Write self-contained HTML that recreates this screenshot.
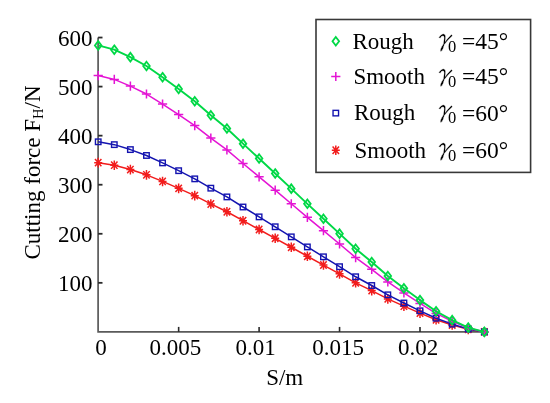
<!DOCTYPE html><html><head><meta charset="utf-8"><style>html,body{margin:0;padding:0;background:#fff;width:550px;height:403px;overflow:hidden}svg{display:block}text{font-family:"Liberation Serif","Times New Roman",serif;fill:#000}</style></head><body>
<svg width="550" height="403" viewBox="0 0 550 403">
<rect width="550" height="403" fill="#fff"/>
<path d="M98.1 37.54V331.9H484.36" fill="none" stroke="#5a5a5a" stroke-width="1.7"/>
<path d="M98.1 282.84H102.5" stroke="#2a2a2a" stroke-width="1.8"/>
<text x="92.5" y="291.14" font-size="23.0" text-anchor="end">100</text>
<path d="M98.1 233.78H102.5" stroke="#2a2a2a" stroke-width="1.8"/>
<text x="92.5" y="242.08" font-size="23.0" text-anchor="end">200</text>
<path d="M98.1 184.72H102.5" stroke="#2a2a2a" stroke-width="1.8"/>
<text x="92.5" y="193.02" font-size="23.0" text-anchor="end">300</text>
<path d="M98.1 135.66H102.5" stroke="#2a2a2a" stroke-width="1.8"/>
<text x="92.5" y="143.96" font-size="23.0" text-anchor="end">400</text>
<path d="M98.1 86.60H102.5" stroke="#2a2a2a" stroke-width="1.8"/>
<text x="92.5" y="94.90" font-size="23.0" text-anchor="end">500</text>
<path d="M98.1 37.54H102.5" stroke="#2a2a2a" stroke-width="1.8"/>
<text x="92.5" y="45.84" font-size="23.0" text-anchor="end">600</text>
<path d="M178.65 331.9V326.9" stroke="#2a2a2a" stroke-width="1.6"/>
<path d="M259.10 331.9V326.9" stroke="#2a2a2a" stroke-width="1.6"/>
<path d="M339.55 331.9V326.9" stroke="#2a2a2a" stroke-width="1.6"/>
<path d="M420.00 331.9V326.9" stroke="#2a2a2a" stroke-width="1.6"/>
<path d="M98.20 162.64L114.29 165.18L130.38 169.58L146.47 174.83L162.56 181.43L178.65 188.37L194.74 195.65L210.83 203.94L226.92 211.73L243.01 220.70L259.10 229.50L275.19 238.30L291.28 247.27L307.37 256.24L323.46 265.04L339.55 273.84L355.64 282.82L371.73 290.60L387.82 298.89L403.91 306.17L420.00 313.11L436.09 319.71L452.18 324.96L468.27 329.36L484.36 331.90" fill="none" stroke="#f21c1c" stroke-width="1.5" stroke-linejoin="round"/>
<path d="M94.20 162.64H102.20M98.20 157.84V167.44M95.00 158.94L101.40 166.34M95.00 166.34L101.40 158.94" stroke="#f21c1c" stroke-width="1.5"/>
<path d="M110.29 165.18H118.29M114.29 160.38V169.98M111.09 161.48L117.49 168.88M111.09 168.88L117.49 161.48" stroke="#f21c1c" stroke-width="1.5"/>
<path d="M126.38 169.58H134.38M130.38 164.78V174.38M127.18 165.88L133.58 173.28M127.18 173.28L133.58 165.88" stroke="#f21c1c" stroke-width="1.5"/>
<path d="M142.47 174.83H150.47M146.47 170.03V179.63M143.27 171.13L149.67 178.53M143.27 178.53L149.67 171.13" stroke="#f21c1c" stroke-width="1.5"/>
<path d="M158.56 181.43H166.56M162.56 176.63V186.23M159.36 177.73L165.76 185.13M159.36 185.13L165.76 177.73" stroke="#f21c1c" stroke-width="1.5"/>
<path d="M174.65 188.37H182.65M178.65 183.57V193.17M175.45 184.67L181.85 192.07M175.45 192.07L181.85 184.67" stroke="#f21c1c" stroke-width="1.5"/>
<path d="M190.74 195.65H198.74M194.74 190.85V200.45M191.54 191.95L197.94 199.35M191.54 199.35L197.94 191.95" stroke="#f21c1c" stroke-width="1.5"/>
<path d="M206.83 203.94H214.83M210.83 199.14V208.74M207.63 200.24L214.03 207.64M207.63 207.64L214.03 200.24" stroke="#f21c1c" stroke-width="1.5"/>
<path d="M222.92 211.73H230.92M226.92 206.93V216.53M223.72 208.03L230.12 215.43M223.72 215.43L230.12 208.03" stroke="#f21c1c" stroke-width="1.5"/>
<path d="M239.01 220.70H247.01M243.01 215.90V225.50M239.81 217.00L246.21 224.40M239.81 224.40L246.21 217.00" stroke="#f21c1c" stroke-width="1.5"/>
<path d="M255.10 229.50H263.10M259.10 224.70V234.30M255.90 225.80L262.30 233.20M255.90 233.20L262.30 225.80" stroke="#f21c1c" stroke-width="1.5"/>
<path d="M271.19 238.30H279.19M275.19 233.50V243.10M271.99 234.60L278.39 242.00M271.99 242.00L278.39 234.60" stroke="#f21c1c" stroke-width="1.5"/>
<path d="M287.28 247.27H295.28M291.28 242.47V252.07M288.08 243.57L294.48 250.97M288.08 250.97L294.48 243.57" stroke="#f21c1c" stroke-width="1.5"/>
<path d="M303.37 256.24H311.37M307.37 251.44V261.04M304.17 252.54L310.57 259.94M304.17 259.94L310.57 252.54" stroke="#f21c1c" stroke-width="1.5"/>
<path d="M319.46 265.04H327.46M323.46 260.24V269.84M320.26 261.34L326.66 268.74M320.26 268.74L326.66 261.34" stroke="#f21c1c" stroke-width="1.5"/>
<path d="M335.55 273.84H343.55M339.55 269.04V278.64M336.35 270.14L342.75 277.54M336.35 277.54L342.75 270.14" stroke="#f21c1c" stroke-width="1.5"/>
<path d="M351.64 282.82H359.64M355.64 278.02V287.62M352.44 279.12L358.84 286.52M352.44 286.52L358.84 279.12" stroke="#f21c1c" stroke-width="1.5"/>
<path d="M367.73 290.60H375.73M371.73 285.80V295.40M368.53 286.90L374.93 294.30M368.53 294.30L374.93 286.90" stroke="#f21c1c" stroke-width="1.5"/>
<path d="M383.82 298.89H391.82M387.82 294.09V303.69M384.62 295.19L391.02 302.59M384.62 302.59L391.02 295.19" stroke="#f21c1c" stroke-width="1.5"/>
<path d="M399.91 306.17H407.91M403.91 301.37V310.97M400.71 302.47L407.11 309.87M400.71 309.87L407.11 302.47" stroke="#f21c1c" stroke-width="1.5"/>
<path d="M416.00 313.11H424.00M420.00 308.31V317.91M416.80 309.41L423.20 316.81M416.80 316.81L423.20 309.41" stroke="#f21c1c" stroke-width="1.5"/>
<path d="M432.09 319.71H440.09M436.09 314.91V324.51M432.89 316.01L439.29 323.41M432.89 323.41L439.29 316.01" stroke="#f21c1c" stroke-width="1.5"/>
<path d="M448.18 324.96H456.18M452.18 320.16V329.76M448.98 321.26L455.38 328.66M448.98 328.66L455.38 321.26" stroke="#f21c1c" stroke-width="1.5"/>
<path d="M464.27 329.36H472.27M468.27 324.56V334.16M465.07 325.66L471.47 333.06M465.07 333.06L471.47 325.66" stroke="#f21c1c" stroke-width="1.5"/>
<path d="M480.36 331.90H488.36M484.36 327.10V336.70M481.16 328.20L487.56 335.60M481.16 335.60L487.56 328.20" stroke="#f21c1c" stroke-width="1.5"/>
<path d="M98.20 141.79L114.29 144.64L130.38 149.59L146.47 155.48L162.56 162.89L178.65 170.69L194.74 178.86L210.83 188.18L226.92 196.92L243.01 207.00L259.10 216.88L275.19 226.77L291.28 236.85L307.37 246.92L323.46 256.81L339.55 266.69L355.64 276.77L371.73 285.51L387.82 294.83L403.91 303.00L420.00 310.80L436.09 318.21L452.18 324.11L468.27 329.05L484.36 331.90" fill="none" stroke="#1414b0" stroke-width="1.5" stroke-linejoin="round"/>
<rect x="95.45" y="139.04" width="5.50" height="5.50" fill="none" stroke="#1414b0" stroke-width="1.4"/>
<rect x="111.54" y="141.89" width="5.50" height="5.50" fill="none" stroke="#1414b0" stroke-width="1.4"/>
<rect x="127.63" y="146.84" width="5.50" height="5.50" fill="none" stroke="#1414b0" stroke-width="1.4"/>
<rect x="143.72" y="152.73" width="5.50" height="5.50" fill="none" stroke="#1414b0" stroke-width="1.4"/>
<rect x="159.81" y="160.14" width="5.50" height="5.50" fill="none" stroke="#1414b0" stroke-width="1.4"/>
<rect x="175.90" y="167.94" width="5.50" height="5.50" fill="none" stroke="#1414b0" stroke-width="1.4"/>
<rect x="191.99" y="176.11" width="5.50" height="5.50" fill="none" stroke="#1414b0" stroke-width="1.4"/>
<rect x="208.08" y="185.43" width="5.50" height="5.50" fill="none" stroke="#1414b0" stroke-width="1.4"/>
<rect x="224.17" y="194.17" width="5.50" height="5.50" fill="none" stroke="#1414b0" stroke-width="1.4"/>
<rect x="240.26" y="204.25" width="5.50" height="5.50" fill="none" stroke="#1414b0" stroke-width="1.4"/>
<rect x="256.35" y="214.13" width="5.50" height="5.50" fill="none" stroke="#1414b0" stroke-width="1.4"/>
<rect x="272.44" y="224.02" width="5.50" height="5.50" fill="none" stroke="#1414b0" stroke-width="1.4"/>
<rect x="288.53" y="234.10" width="5.50" height="5.50" fill="none" stroke="#1414b0" stroke-width="1.4"/>
<rect x="304.62" y="244.17" width="5.50" height="5.50" fill="none" stroke="#1414b0" stroke-width="1.4"/>
<rect x="320.71" y="254.06" width="5.50" height="5.50" fill="none" stroke="#1414b0" stroke-width="1.4"/>
<rect x="336.80" y="263.94" width="5.50" height="5.50" fill="none" stroke="#1414b0" stroke-width="1.4"/>
<rect x="352.89" y="274.02" width="5.50" height="5.50" fill="none" stroke="#1414b0" stroke-width="1.4"/>
<rect x="368.98" y="282.76" width="5.50" height="5.50" fill="none" stroke="#1414b0" stroke-width="1.4"/>
<rect x="385.07" y="292.08" width="5.50" height="5.50" fill="none" stroke="#1414b0" stroke-width="1.4"/>
<rect x="401.16" y="300.25" width="5.50" height="5.50" fill="none" stroke="#1414b0" stroke-width="1.4"/>
<rect x="417.25" y="308.05" width="5.50" height="5.50" fill="none" stroke="#1414b0" stroke-width="1.4"/>
<rect x="433.34" y="315.46" width="5.50" height="5.50" fill="none" stroke="#1414b0" stroke-width="1.4"/>
<rect x="449.43" y="321.36" width="5.50" height="5.50" fill="none" stroke="#1414b0" stroke-width="1.4"/>
<rect x="465.52" y="326.30" width="5.50" height="5.50" fill="none" stroke="#1414b0" stroke-width="1.4"/>
<rect x="481.61" y="329.15" width="5.50" height="5.50" fill="none" stroke="#1414b0" stroke-width="1.4"/>
<path d="M98.20 75.56L114.29 79.41L130.38 86.07L146.47 94.02L162.56 104.02L178.65 114.52L194.74 125.55L210.83 138.11L226.92 149.90L243.01 163.49L259.10 176.82L275.19 190.14L291.28 203.73L307.37 217.32L323.46 230.65L339.55 243.98L355.64 257.56L371.73 269.35L387.82 281.91L403.91 292.94L420.00 303.45L436.09 313.44L452.18 321.39L468.27 328.05L484.36 331.90" fill="none" stroke="#e414d4" stroke-width="1.5" stroke-linejoin="round"/>
<path d="M93.60 75.56H102.80M98.20 70.96V80.16" stroke="#e414d4" stroke-width="1.5"/>
<path d="M109.69 79.41H118.89M114.29 74.81V84.01" stroke="#e414d4" stroke-width="1.5"/>
<path d="M125.78 86.07H134.98M130.38 81.47V90.67" stroke="#e414d4" stroke-width="1.5"/>
<path d="M141.87 94.02H151.07M146.47 89.42V98.62" stroke="#e414d4" stroke-width="1.5"/>
<path d="M157.96 104.02H167.16M162.56 99.42V108.62" stroke="#e414d4" stroke-width="1.5"/>
<path d="M174.05 114.52H183.25M178.65 109.92V119.12" stroke="#e414d4" stroke-width="1.5"/>
<path d="M190.14 125.55H199.34M194.74 120.95V130.15" stroke="#e414d4" stroke-width="1.5"/>
<path d="M206.23 138.11H215.43M210.83 133.51V142.71" stroke="#e414d4" stroke-width="1.5"/>
<path d="M222.32 149.90H231.52M226.92 145.30V154.50" stroke="#e414d4" stroke-width="1.5"/>
<path d="M238.41 163.49H247.61M243.01 158.89V168.09" stroke="#e414d4" stroke-width="1.5"/>
<path d="M254.50 176.82H263.70M259.10 172.22V181.42" stroke="#e414d4" stroke-width="1.5"/>
<path d="M270.59 190.14H279.79M275.19 185.54V194.74" stroke="#e414d4" stroke-width="1.5"/>
<path d="M286.68 203.73H295.88M291.28 199.13V208.33" stroke="#e414d4" stroke-width="1.5"/>
<path d="M302.77 217.32H311.97M307.37 212.72V221.92" stroke="#e414d4" stroke-width="1.5"/>
<path d="M318.86 230.65H328.06M323.46 226.05V235.25" stroke="#e414d4" stroke-width="1.5"/>
<path d="M334.95 243.98H344.15M339.55 239.38V248.58" stroke="#e414d4" stroke-width="1.5"/>
<path d="M351.04 257.56H360.24M355.64 252.96V262.16" stroke="#e414d4" stroke-width="1.5"/>
<path d="M367.13 269.35H376.33M371.73 264.75V273.95" stroke="#e414d4" stroke-width="1.5"/>
<path d="M383.22 281.91H392.42M387.82 277.31V286.51" stroke="#e414d4" stroke-width="1.5"/>
<path d="M399.31 292.94H408.51M403.91 288.34V297.54" stroke="#e414d4" stroke-width="1.5"/>
<path d="M415.40 303.45H424.60M420.00 298.85V308.05" stroke="#e414d4" stroke-width="1.5"/>
<path d="M431.49 313.44H440.69M436.09 308.84V318.04" stroke="#e414d4" stroke-width="1.5"/>
<path d="M447.58 321.39H456.78M452.18 316.79V325.99" stroke="#e414d4" stroke-width="1.5"/>
<path d="M463.67 328.05H472.87M468.27 323.45V332.65" stroke="#e414d4" stroke-width="1.5"/>
<path d="M479.76 331.90H488.96M484.36 327.30V336.50" stroke="#e414d4" stroke-width="1.5"/>
<path d="M98.20 45.39L114.29 49.69L130.38 57.14L146.47 66.02L162.56 77.19L178.65 88.94L194.74 101.26L210.83 115.30L226.92 128.48L243.01 143.66L259.10 158.56L275.19 173.46L291.28 188.64L307.37 203.83L323.46 218.73L339.55 233.63L355.64 248.81L371.73 261.99L387.82 276.03L403.91 288.35L420.00 300.10L436.09 311.27L452.18 320.15L468.27 327.60L484.36 331.90" fill="none" stroke="#00d846" stroke-width="1.9" stroke-linejoin="round"/>
<path d="M98.20 41.09L101.50 45.39L98.20 49.69L94.90 45.39Z" fill="none" stroke="#00d846" stroke-width="1.8"/>
<path d="M114.29 45.39L117.59 49.69L114.29 53.99L110.99 49.69Z" fill="none" stroke="#00d846" stroke-width="1.8"/>
<path d="M130.38 52.84L133.68 57.14L130.38 61.44L127.08 57.14Z" fill="none" stroke="#00d846" stroke-width="1.8"/>
<path d="M146.47 61.72L149.77 66.02L146.47 70.32L143.17 66.02Z" fill="none" stroke="#00d846" stroke-width="1.8"/>
<path d="M162.56 72.89L165.86 77.19L162.56 81.49L159.26 77.19Z" fill="none" stroke="#00d846" stroke-width="1.8"/>
<path d="M178.65 84.64L181.95 88.94L178.65 93.24L175.35 88.94Z" fill="none" stroke="#00d846" stroke-width="1.8"/>
<path d="M194.74 96.96L198.04 101.26L194.74 105.56L191.44 101.26Z" fill="none" stroke="#00d846" stroke-width="1.8"/>
<path d="M210.83 111.00L214.13 115.30L210.83 119.60L207.53 115.30Z" fill="none" stroke="#00d846" stroke-width="1.8"/>
<path d="M226.92 124.18L230.22 128.48L226.92 132.78L223.62 128.48Z" fill="none" stroke="#00d846" stroke-width="1.8"/>
<path d="M243.01 139.36L246.31 143.66L243.01 147.96L239.71 143.66Z" fill="none" stroke="#00d846" stroke-width="1.8"/>
<path d="M259.10 154.26L262.40 158.56L259.10 162.86L255.80 158.56Z" fill="none" stroke="#00d846" stroke-width="1.8"/>
<path d="M275.19 169.16L278.49 173.46L275.19 177.76L271.89 173.46Z" fill="none" stroke="#00d846" stroke-width="1.8"/>
<path d="M291.28 184.34L294.58 188.64L291.28 192.94L287.98 188.64Z" fill="none" stroke="#00d846" stroke-width="1.8"/>
<path d="M307.37 199.53L310.67 203.83L307.37 208.13L304.07 203.83Z" fill="none" stroke="#00d846" stroke-width="1.8"/>
<path d="M323.46 214.43L326.76 218.73L323.46 223.03L320.16 218.73Z" fill="none" stroke="#00d846" stroke-width="1.8"/>
<path d="M339.55 229.33L342.85 233.63L339.55 237.93L336.25 233.63Z" fill="none" stroke="#00d846" stroke-width="1.8"/>
<path d="M355.64 244.51L358.94 248.81L355.64 253.11L352.34 248.81Z" fill="none" stroke="#00d846" stroke-width="1.8"/>
<path d="M371.73 257.69L375.03 261.99L371.73 266.29L368.43 261.99Z" fill="none" stroke="#00d846" stroke-width="1.8"/>
<path d="M387.82 271.73L391.12 276.03L387.82 280.33L384.52 276.03Z" fill="none" stroke="#00d846" stroke-width="1.8"/>
<path d="M403.91 284.05L407.21 288.35L403.91 292.65L400.61 288.35Z" fill="none" stroke="#00d846" stroke-width="1.8"/>
<path d="M420.00 295.80L423.30 300.10L420.00 304.40L416.70 300.10Z" fill="none" stroke="#00d846" stroke-width="1.8"/>
<path d="M436.09 306.97L439.39 311.27L436.09 315.57L432.79 311.27Z" fill="none" stroke="#00d846" stroke-width="1.8"/>
<path d="M452.18 315.85L455.48 320.15L452.18 324.45L448.88 320.15Z" fill="none" stroke="#00d846" stroke-width="1.8"/>
<path d="M468.27 323.30L471.57 327.60L468.27 331.90L464.97 327.60Z" fill="none" stroke="#00d846" stroke-width="1.8"/>
<path d="M484.36 327.60L487.66 331.90L484.36 336.20L481.06 331.90Z" fill="none" stroke="#00d846" stroke-width="1.8"/>
<text x="101.00" y="354.5" font-size="23.0" text-anchor="middle">0</text>
<text x="175.40" y="354.5" font-size="23.0" text-anchor="middle">0.005</text>
<text x="255.60" y="354.5" font-size="23.0" text-anchor="middle">0.01</text>
<text x="338.10" y="354.5" font-size="23.0" text-anchor="middle">0.015</text>
<text x="418.00" y="354.5" font-size="23.0" text-anchor="middle">0.02</text>
<text x="284.7" y="385.4" font-size="23.0" text-anchor="middle">S/m</text>
<text transform="translate(40.3 259.5) rotate(-90)" x="0" y="0" font-size="23.0">Cutting force F<tspan font-size="14.5" dy="2.7">H</tspan><tspan dy="-2.7">/N</tspan></text>
<rect x="316.0" y="19.5" width="214.6" height="152.9" fill="#fff" stroke="#383838" stroke-width="1.6"/>
<path d="M335.80 37.00L339.10 41.30L335.80 45.60L332.50 41.30Z" fill="none" stroke="#00d846" stroke-width="1.8"/>
<text x="352.5" y="48.6" font-size="23.0">Rough</text>
<text transform="translate(431.6 48.6) skewX(-12) scale(0.82 1)" style="font-family:IPAGothic,sans-serif" font-size="28" stroke="#fff" stroke-width="0.4">γ</text>
<text x="447.9" y="51.60" font-size="16.5">0</text>
<text x="462.0" y="48.80" font-size="23.5">=45°</text>
<path d="M331.20 76.50H340.40M335.80 71.90V81.10" stroke="#e414d4" stroke-width="1.5"/>
<text x="353.4" y="83.8" font-size="23.0">Smooth</text>
<text transform="translate(431.6 83.8) skewX(-12) scale(0.82 1)" style="font-family:IPAGothic,sans-serif" font-size="28" stroke="#fff" stroke-width="0.4">γ</text>
<text x="447.9" y="86.80" font-size="16.5">0</text>
<text x="462.0" y="84.00" font-size="23.5">=45°</text>
<rect x="333.05" y="110.35" width="5.50" height="5.50" fill="none" stroke="#1414b0" stroke-width="1.4"/>
<text x="354.0" y="120.4" font-size="23.0">Rough</text>
<text transform="translate(431.6 120.4) skewX(-12) scale(0.82 1)" style="font-family:IPAGothic,sans-serif" font-size="28" stroke="#fff" stroke-width="0.4">γ</text>
<text x="447.9" y="123.40" font-size="16.5">0</text>
<text x="462.0" y="120.60" font-size="23.5">=60°</text>
<path d="M331.80 150.20H339.80M335.80 145.40V155.00M332.60 146.50L339.00 153.90M332.60 153.90L339.00 146.50" stroke="#f21c1c" stroke-width="1.5"/>
<text x="354.5" y="157.5" font-size="23.0">Smooth</text>
<text transform="translate(431.6 157.5) skewX(-12) scale(0.82 1)" style="font-family:IPAGothic,sans-serif" font-size="28" stroke="#fff" stroke-width="0.4">γ</text>
<text x="447.9" y="160.50" font-size="16.5">0</text>
<text x="462.0" y="157.70" font-size="23.5">=60°</text>
</svg></body></html>
